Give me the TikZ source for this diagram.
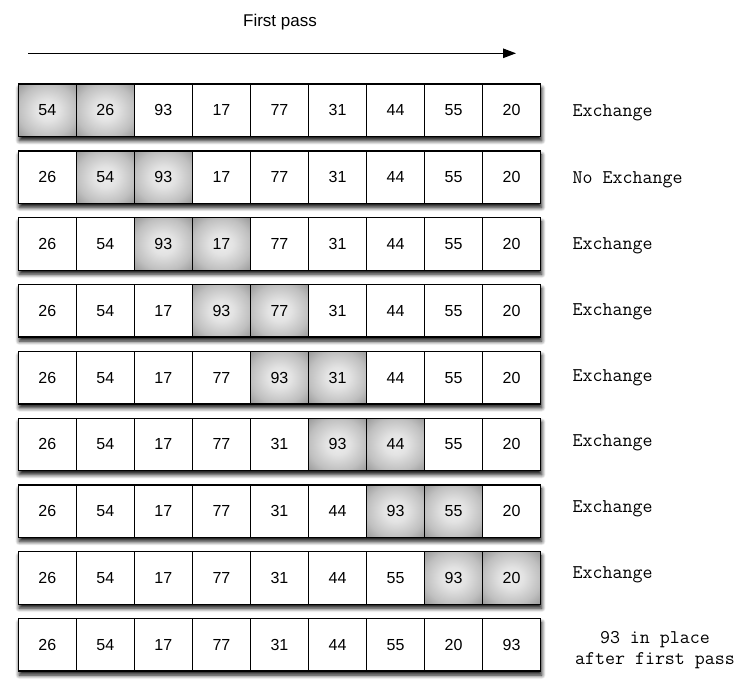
\documentclass[tikz,border=0pt]{standalone}
\usepackage{fontspec}
\setmainfont{Liberation Sans}
\usetikzlibrary{arrows.meta,shadows.blur}
\pgfdeclareradialshading{cellshade}{\pgfpoint{0bp}{0bp}}{color(0bp)=(black!7); color(10bp)=(black!11); color(25bp)=(black!25); color(35.4bp)=(black!40); color(50bp)=(black!40)}
\tikzset{
  cell/.style={draw=black, line width=1.3pt, minimum width=58pt, minimum height=52.5pt, inner sep=0pt, font=\fontsize{16}{19}\selectfont, fill=white, anchor=center},
  hot/.style={shading=cellshade},
  rowbg/.style={fill=white, blur shadow={shadow xshift=1pt, shadow yshift=-4pt, shadow blur radius=4pt, shadow blur steps=8, shadow opacity=95}},
  lab/.style={font=\ttfamily\fontsize{19.4}{21}\selectfont, anchor=west, inner sep=0pt},
  passarrow/.style={line width=1.2pt, -{Triangle[length=13pt,width=9.5pt]}},
}
\begin{document}
\begin{tikzpicture}[x=1pt,y=-1pt]
\useasboundingbox (0,0) rectangle (750,695);
\node[font=\fontsize{17}{20}\selectfont] (title) at (280,22) {First pass};
\coordinate (as) at (28,53.3);
\coordinate (ae) at (516,53.3);
\draw[passarrow] (as) -- (ae);
\foreach \vals/\a/\ly/\lab [count=\i] in {
  {54,26,93,17,77,31,44,55,20}/1/113/Exchange,
  {26,54,93,17,77,31,44,55,20}/2/180/No Exchange,
  {26,54,93,17,77,31,44,55,20}/3/245.5/Exchange,
  {26,54,17,93,77,31,44,55,20}/4/311.5/Exchange,
  {26,54,17,77,93,31,44,55,20}/5/377.5/Exchange,
  {26,54,17,77,31,93,44,55,20}/6/442.5/Exchange,
  {26,54,17,77,31,44,93,55,20}/7/508.5/Exchange,
  {26,54,17,77,31,44,55,93,20}/8/574.5/Exchange,
  {26,54,17,77,31,44,55,20,93}/0/0/{}}{
  \pgfmathsetmacro\yc{110.4+66.8*(\i-1)}
  \path[rowbg] (18.3,\yc-26.25) rectangle (540.7,\yc+26.25);
  \foreach \v [count=\j] in \vals {
    \pgfmathtruncatemacro\hot{(\a>0)&&((\j==\a)||(\j==\a+1))}
    \ifnum\hot=1
      \node[cell,hot] (c-\i-\j) at ({47.3+58.04*(\j-1)},\yc) {\v};
    \else
      \node[cell] (c-\i-\j) at ({47.3+58.04*(\j-1)},\yc) {\v};
    \fi
  }
  \ifnum\a>0
    \node[lab] (l-\i) at (572.5,\ly) {\lab};
  \fi
}
\node[lab, anchor=center, align=center] (l-9) at (655,650.5) {93 in place\\after first pass};
\end{tikzpicture}
\end{document}
